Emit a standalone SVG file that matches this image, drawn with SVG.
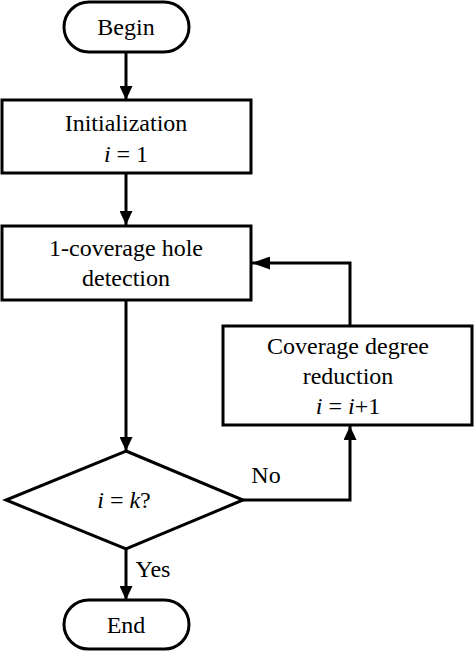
<svg xmlns="http://www.w3.org/2000/svg" width="474" height="651" viewBox="0 0 474 651">
<style>
.s{fill:#fff;stroke:#000;stroke-width:3}
.c{fill:none;stroke:#000;stroke-width:3}
text{font-size:24px;fill:#000;text-anchor:middle}
.i{font-style:italic}
</style>
<defs>
<marker id="a" viewBox="0 0 14 13" refX="14" refY="6.5" markerWidth="14" markerHeight="13" markerUnits="userSpaceOnUse" orient="auto">
<path d="M0,0 L14,6.5 L0,13 z" fill="#000"/>
</marker>
<marker id="b" viewBox="0 0 18 13" refX="18" refY="6.5" markerWidth="18" markerHeight="13" markerUnits="userSpaceOnUse" orient="auto">
<path d="M0,0 L18,6.5 L0,13 z" fill="#000"/>
</marker>
</defs>
<g font-family="'Liberation Serif', 'DejaVu Serif', serif">
<g id="connectors">
<line class="c" x1="126" y1="52" x2="126" y2="100" marker-end="url(#a)"/>
<line class="c" x1="126" y1="173" x2="126" y2="225" marker-end="url(#a)"/>
<line class="c" x1="126" y1="300" x2="126" y2="451" marker-end="url(#a)"/>
<line class="c" x1="126" y1="549" x2="126" y2="600" marker-end="url(#a)"/>
<polyline class="c" points="243,500 350,500 350,426" marker-end="url(#a)"/>
<polyline class="c" points="350,326 350,263 252,263" marker-end="url(#b)"/>
<text x="266" y="483">No</text>
<text x="153" y="577">Yes</text>
</g>
<g id="begin">
<rect class="s" x="64" y="2" width="125" height="50" rx="25"/>
<text x="126" y="35">Begin</text>
</g>
<g id="init">
<rect class="s" x="2" y="100" width="249" height="73"/>
<text x="126" y="131">Initialization</text>
<text x="126" y="162"><tspan class="i">i</tspan> = 1</text>
</g>
<g id="detect">
<rect class="s" x="2" y="226" width="249" height="74"/>
<text x="126" y="256">1-coverage hole</text>
<text x="126" y="286">detection</text>
</g>
<g id="reduce">
<rect class="s" x="223" y="326" width="249" height="99"/>
<text x="348" y="354">Coverage degree</text>
<text x="348" y="384">reduction</text>
<text x="348" y="414"><tspan class="i">i</tspan> = <tspan class="i">i</tspan>+1</text>
</g>
<g id="decision">
<polygon class="s" points="126,451 243,500 126,549 6,500"/>
<text x="124" y="508"><tspan class="i">i</tspan> = <tspan class="i">k</tspan>?</text>
</g>
<g id="end">
<rect class="s" x="64" y="600" width="125" height="49" rx="24.5"/>
<text x="126" y="633">End</text>
</g>
</g>
</svg>
